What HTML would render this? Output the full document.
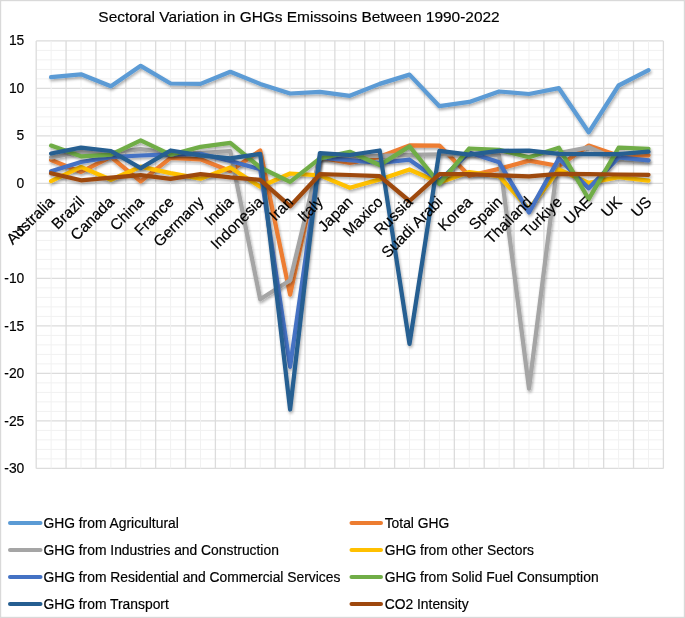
<!DOCTYPE html>
<html lang="en"><head><meta charset="utf-8"><title>Sectoral Variation in GHGs Emissoins Between 1990-2022</title>
<style>
html,body{margin:0;padding:0;background:#fff;}
#chart{position:relative;width:685px;height:618px;overflow:hidden;background:#fff;}
svg{position:absolute;left:0;top:0;display:block;}
text{font-family:"Liberation Sans",Arial,sans-serif;fill:#000;stroke:#000;stroke-width:0.18px;}
.t{font-size:15.45px;}
.a{font-size:13.85px;}
.x{font-size:15.45px;}
</style></head><body>
<div id="chart">
<svg width="685" height="618" viewBox="0 0 685 618">
<defs><filter id="sh" filterUnits="userSpaceOnUse" x="0" y="0" width="685" height="618"><feGaussianBlur in="SourceAlpha" stdDeviation="1.8"/><feOffset dx="0.8" dy="2.0"/><feComponentTransfer><feFuncA type="linear" slope="0.33"/></feComponentTransfer><feMerge><feMergeNode/><feMergeNode in="SourceGraphic"/></feMerge></filter></defs>
<rect x="0" y="0" width="685" height="618" fill="#fff"/>
<rect x="0.5" y="0.5" width="684" height="617" fill="none" stroke="#d9d9d9" stroke-width="1.4"/>
<g id="grid"><path d="M36.20 468.40H663.40M36.20 420.90H663.40M36.20 373.40H663.40M36.20 325.90H663.40M36.20 278.40H663.40M36.20 230.90H663.40M36.20 183.40H663.40M36.20 135.90H663.40M36.20 88.40H663.40M36.20 40.90H663.40" stroke="#dcdcdc" stroke-width="1.3" fill="none"/>
<path d="M36.20 458.90H663.40M36.20 449.40H663.40M36.20 439.90H663.40M36.20 430.40H663.40M36.20 411.40H663.40M36.20 401.90H663.40M36.20 392.40H663.40M36.20 382.90H663.40M36.20 363.90H663.40M36.20 354.40H663.40M36.20 344.90H663.40M36.20 335.40H663.40M36.20 316.40H663.40M36.20 306.90H663.40M36.20 297.40H663.40M36.20 287.90H663.40M36.20 268.90H663.40M36.20 259.40H663.40M36.20 249.90H663.40M36.20 240.40H663.40M36.20 221.40H663.40M36.20 211.90H663.40M36.20 202.40H663.40M36.20 192.90H663.40M36.20 173.90H663.40M36.20 164.40H663.40M36.20 154.90H663.40M36.20 145.40H663.40M36.20 126.40H663.40M36.20 116.90H663.40M36.20 107.40H663.40M36.20 97.90H663.40M36.20 78.90H663.40M36.20 69.40H663.40M36.20 59.90H663.40M36.20 50.40H663.40" stroke="#f1f1f1" stroke-width="1" fill="none"/>
<path d="M36.20 40.90V468.40M66.07 40.90V468.40M95.93 40.90V468.40M125.80 40.90V468.40M155.67 40.90V468.40M185.53 40.90V468.40M215.40 40.90V468.40M245.27 40.90V468.40M275.13 40.90V468.40M305.00 40.90V468.40M334.87 40.90V468.40M364.73 40.90V468.40M394.60 40.90V468.40M424.47 40.90V468.40M454.33 40.90V468.40M484.20 40.90V468.40M514.07 40.90V468.40M543.93 40.90V468.40M573.80 40.90V468.40M603.67 40.90V468.40M633.53 40.90V468.40M663.40 40.90V468.40" stroke="#dcdcdc" stroke-width="1.3" fill="none"/>
<path d="M51.13 40.90V468.40M81.00 40.90V468.40M110.87 40.90V468.40M140.73 40.90V468.40M170.60 40.90V468.40M200.47 40.90V468.40M230.33 40.90V468.40M260.20 40.90V468.40M290.07 40.90V468.40M319.93 40.90V468.40M349.80 40.90V468.40M379.67 40.90V468.40M409.53 40.90V468.40M439.40 40.90V468.40M469.27 40.90V468.40M499.13 40.90V468.40M529.00 40.90V468.40M558.87 40.90V468.40M588.73 40.90V468.40M618.60 40.90V468.40M648.47 40.90V468.40" stroke="#f1f1f1" stroke-width="1" fill="none"/></g>
<g id="series" fill="none" stroke-width="4.25" stroke-linecap="round" stroke-linejoin="round">
<polyline filter="url(#sh)" stroke="#5B9BD5" points="51.1,77.2 81.0,74.3 110.9,86.3 140.7,65.8 170.6,83.5 200.5,83.9 230.3,71.8 260.2,83.9 290.1,93.5 319.9,91.9 349.8,95.8 379.7,83.9 409.5,74.6 439.4,106.2 469.3,101.9 499.1,91.5 529.0,94.0 558.9,88.2 588.7,132.3 618.6,85.5 648.5,70.1"/>
<polyline filter="url(#sh)" stroke="#ED7D31" points="51.1,160.1 81.0,171.9 110.9,156.8 140.7,181.4 170.6,157.9 200.5,159.3 230.3,170.9 260.2,150.5 290.1,294.6 319.9,157.3 349.8,163.0 379.7,156.8 409.5,145.4 439.4,145.6 469.3,175.8 499.1,168.9 529.0,160.6 558.9,166.0 588.7,145.6 618.6,155.8 648.5,155.3"/>
<polyline filter="url(#sh)" stroke="#A5A5A5" points="51.1,157.3 81.0,151.8 110.9,152.5 140.7,149.2 170.6,153.0 200.5,153.0 230.3,151.1 260.2,299.3 290.1,280.3 319.9,156.8 349.8,155.8 379.7,155.8 409.5,154.9 439.4,154.4 469.3,154.0 499.1,155.4 529.0,388.6 558.9,153.0 588.7,147.3 618.6,160.1 648.5,160.6"/>
<polyline filter="url(#sh)" stroke="#FFC000" points="51.1,181.1 81.0,166.9 110.9,179.8 140.7,166.7 170.6,173.2 200.5,178.7 230.3,167.5 260.2,186.7 290.1,173.5 319.9,175.4 349.8,187.8 379.7,179.4 409.5,169.5 439.4,182.6 469.3,172.1 499.1,176.1 529.0,209.1 558.9,169.5 588.7,182.9 618.6,177.1 648.5,180.6"/>
<polyline filter="url(#sh)" stroke="#4472C4" points="51.1,171.3 81.0,162.0 110.9,157.1 140.7,155.5 170.6,154.4 200.5,153.8 230.3,161.0 260.2,169.2 290.1,366.8 319.9,157.6 349.8,160.1 379.7,163.0 409.5,159.7 439.4,180.7 469.3,152.4 499.1,162.3 529.0,212.4 558.9,158.5 588.7,188.2 618.6,157.4 648.5,160.3"/>
<polyline filter="url(#sh)" stroke="#70AD47" points="51.1,145.6 81.0,156.3 110.9,154.6 140.7,140.4 170.6,154.7 200.5,146.9 230.3,142.8 260.2,167.5 290.1,181.8 319.9,158.4 349.8,151.8 379.7,165.0 409.5,146.4 439.4,183.7 469.3,148.5 499.1,149.9 529.0,157.2 558.9,147.7 588.7,199.1 618.6,147.7 648.5,148.9"/>
<polyline filter="url(#sh)" stroke="#255E91" points="51.1,153.5 81.0,147.6 110.9,151.0 140.7,168.2 170.6,150.5 200.5,155.4 230.3,158.4 260.2,153.8 290.1,409.5 319.9,153.1 349.8,155.0 379.7,150.5 409.5,343.9 439.4,150.9 469.3,154.7 499.1,150.9 529.0,150.6 558.9,153.8 588.7,154.2 618.6,154.1 648.5,151.7"/>
<polyline filter="url(#sh)" stroke="#9E480E" points="51.1,173.2 81.0,180.3 110.9,177.7 140.7,175.2 170.6,178.8 200.5,174.2 230.3,177.4 260.2,179.8 290.1,206.2 319.9,174.2 349.8,175.0 379.7,176.1 409.5,201.0 439.4,174.2 469.3,174.2 499.1,175.4 529.0,176.3 558.9,173.9 588.7,174.1 618.6,174.5 648.5,174.8"/>
</g>
<text class="t" x="299" y="22.3" text-anchor="middle">Sectoral Variation in GHGs Emissoins Between 1990-2022</text>
<g class="a" text-anchor="end">
<text x="24.3" y="45.3">15</text>
<text x="24.3" y="92.9">10</text>
<text x="24.3" y="140.4">5</text>
<text x="24.3" y="188.0">0</text>
<text x="24.3" y="235.5">-5</text>
<text x="24.3" y="283.1">-10</text>
<text x="24.3" y="330.6">-15</text>
<text x="24.3" y="378.2">-20</text>
<text x="24.3" y="425.7">-25</text>
<text x="24.3" y="473.3">-30</text>
</g>
<g class="x" text-anchor="end">
<text transform="translate(55.2 202.9) rotate(-45)">Australia</text>
<text transform="translate(85.1 202.9) rotate(-45)">Brazil</text>
<text transform="translate(115.0 202.9) rotate(-45)">Canada</text>
<text transform="translate(144.8 202.9) rotate(-45)">China</text>
<text transform="translate(174.7 202.9) rotate(-45)">France</text>
<text transform="translate(204.6 202.9) rotate(-45)">Germany</text>
<text transform="translate(234.4 202.9) rotate(-45)">India</text>
<text transform="translate(264.3 202.9) rotate(-45)">Indonesia</text>
<text transform="translate(294.2 202.9) rotate(-45)">Iran</text>
<text transform="translate(324.0 202.9) rotate(-45)">Italy</text>
<text transform="translate(353.9 202.9) rotate(-45)">Japan</text>
<text transform="translate(383.8 202.9) rotate(-45)">Maxico</text>
<text transform="translate(413.6 202.9) rotate(-45)">Russia</text>
<text transform="translate(443.5 202.9) rotate(-45)">Suadi Arabi</text>
<text transform="translate(473.4 202.9) rotate(-45)">Korea</text>
<text transform="translate(503.2 202.9) rotate(-45)">Spain</text>
<text transform="translate(533.1 202.9) rotate(-45)">Thailand</text>
<text transform="translate(563.0 202.9) rotate(-45)">Turkiye</text>
<text transform="translate(592.8 202.9) rotate(-45)">UAE</text>
<text transform="translate(622.7 202.9) rotate(-45)">UK</text>
<text transform="translate(652.6 202.9) rotate(-45)">US</text>
</g>
<g id="legend" class="a" stroke-width="4.05" stroke-linecap="round">
<line x1="10" y1="523" x2="40.5" y2="523" stroke="#5B9BD5"/><text x="43.4" y="527.5">GHG from Agricultural</text>
<line x1="351.5" y1="523" x2="381" y2="523" stroke="#ED7D31"/><text x="384.7" y="527.5">Total GHG</text>
<line x1="10" y1="550" x2="40.5" y2="550" stroke="#A5A5A5"/><text x="43.4" y="554.5">GHG from Industries and Construction</text>
<line x1="351.5" y1="550" x2="381" y2="550" stroke="#FFC000"/><text x="384.7" y="554.5">GHG from other Sectors</text>
<line x1="10" y1="577" x2="40.5" y2="577" stroke="#4472C4"/><text x="43.4" y="581.5">GHG from Residential and Commercial Services</text>
<line x1="351.5" y1="577" x2="381" y2="577" stroke="#70AD47"/><text x="384.7" y="581.5">GHG from Solid Fuel Consumption</text>
<line x1="10" y1="604" x2="40.5" y2="604" stroke="#255E91"/><text x="43.4" y="608.5">GHG from Transport</text>
<line x1="351.5" y1="604" x2="381" y2="604" stroke="#9E480E"/><text x="384.7" y="608.5">CO2 Intensity</text>
</g>
</svg>
</div>
</body></html>
